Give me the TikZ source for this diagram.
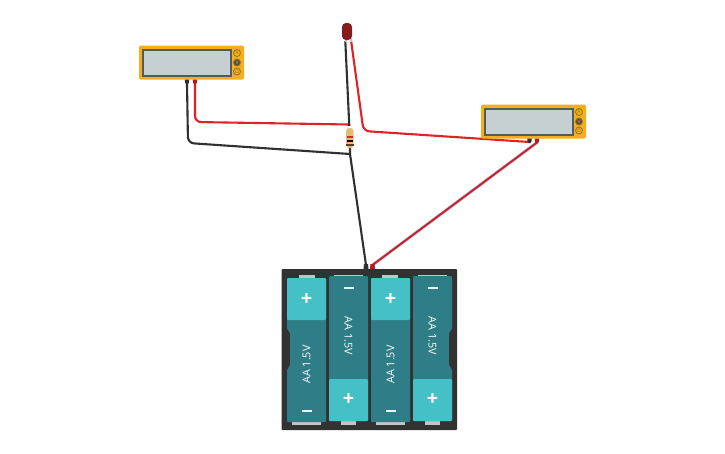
\documentclass[tikz,border=0pt]{standalone}
\usepackage{fontspec}
\setmainfont{Open Sans}
\definecolor{amber}{HTML}{F5AE1C}
\definecolor{lcd}{HTML}{C6D0D2}
\definecolor{lcdedge}{HTML}{555A5A}
\definecolor{tealdark}{HTML}{2E7D87}
\definecolor{teallight}{HTML}{45C0C6}
\definecolor{holder}{HTML}{323232}
\definecolor{wirered}{HTML}{E02226}
\definecolor{wireblack}{HTML}{303030}
\definecolor{capgrey}{HTML}{C4C4C4}
\definecolor{ledred}{HTML}{861C1C}
\definecolor{halo}{HTML}{AFC4E4}
\definecolor{tan}{HTML}{E3BC7C}
\definecolor{btnedge}{HTML}{8F7424}
\tikzset{
 x=1pt,y=-1pt,
 wirer/.style={draw=wirered,line width=2.1pt,rounded corners=6pt},
 wirek/.style={draw=wireblack,line width=2.1pt,rounded corners=6pt},
 leg/.style={draw=#1,line width=2.1pt},
 pole/.style={font=\fontsize{20}{20}\selectfont\bfseries,text=white,inner sep=0pt},
 celltext/.style={font=\fontsize{10.8}{11}\selectfont,text=white,inner sep=0pt},
 btn/.style={circle,draw=btnedge,line width=.8pt,minimum size=7pt,inner sep=0pt,text=btnedge,font=\fontsize{5}{5}\selectfont},
}
\newcommand{\meter}[3]{% name, x, y (top-left)
 \fill[amber,rounded corners=2pt] (#2,#3) rectangle ++(105,34);
 \draw[lcdedge,fill=lcd,line width=1.4pt] (#2+4,#3+4.5) rectangle ++(88,26);
 \node[btn] (#1a) at (#2+98,#3+7.5) {A};
 \node[btn,fill=black!70,text=amber] (#1b) at (#2+98,#3+17) {V};
 \node[btn] (#1c) at (#2+98,#3+26) {Ω};
}
\newcommand{\lead}[3]{% x, top y, colour
 \fill[#3] (#1-2.2,#2) -- (#1+2.2,#2) -- (#1+2.2,#2+2.5) -- (#1+1.1,#2+4.5) -- (#1-1.1,#2+4.5) -- (#1-2.2,#2+2.5) -- cycle;
}
\begin{document}
\begin{tikzpicture}
\useasboundingbox (0,0) rectangle (725,453);
\fill[white] (0,0) rectangle (725,453);
% wires
\coordinate (ledk) at (345.3,41);
\coordinate (ledr) at (351,40);
\coordinate (rt) at (349.3,126);
\coordinate (rj) at (349.3,124.5);
\coordinate (rb) at (350,148);
\coordinate (batk) at (366,265);
\coordinate (batr) at (372.5,265);
\coordinate (m1k) at (187,84);
\coordinate (m1r) at (195,84);
\coordinate (m2k) at (529.5,142);
\coordinate (m2r) at (537,142.5);
\draw[wirek] (m1k) -- (188,143) -- (350,154);
\draw[wirer] (m1r) -- (195,122) -- (rj);
\draw[leg=wireblack] (ledk) -- (rt);
\draw[leg=wireblack] (rb) -- (350,154) -- (batk);
\draw[wirer] (ledr) -- (363.5,131) -- (m2k);
\draw[draw=halo,line width=3.2pt] (batr) -- (m2r);
\draw[draw=wirered!92!black,line width=1.9pt] (batr) -- (m2r);
% LED
\fill[capgrey] (345,38) rectangle (347,42);
\fill[capgrey] (350,38) rectangle (352,42);
\node[fill=ledred,minimum width=10pt,minimum height=17pt,inner sep=0pt,rounded corners=4pt] (led) at (347,31.5) {};
% resistor
\node[fill=tan,minimum width=7.5pt,minimum height=20pt,rounded corners=3pt,inner sep=0pt] (res) at (349.8,138) {};
\fill[wirered] (346.5,135.5) rectangle (353,137.5);
\fill[black] (346.5,139.5) rectangle (353,141.5);
\fill[black!50!brown] (346,143.5) rectangle (353.5,146);
% meters
\meter{ma}{139}{45.5}
\meter{mb}{481}{104.5}
\lead{187}{79.5}{wireblack}
\lead{195}{79.5}{wirered!80!black}
\lead{529.5}{138.5}{wireblack}
\lead{537}{138.5}{wirered!80!black}
% holder
\fill[holder,rounded corners=1pt] (281.5,269) rectangle (457,430);
\fill[wireblack] (364,264) -- (368,264) -- (368.5,269) -- (363.5,269) -- cycle;
\fill[wirered!80!black] (370.5,264) -- (374.5,264) -- (375,269) -- (370,269) -- cycle;
% caps
\fill[capgrey] (298.5,274.5) rectangle ++(16,4);
\fill[capgrey] (381.5,274.5) rectangle ++(16,4);
\fill[capgrey] (334,274.5) rectangle ++(29,2);
\fill[capgrey] (418,274.5) rectangle ++(29,2);
\fill[capgrey] (292,422) rectangle ++(29,3);
\fill[capgrey] (376,422) rectangle ++(29,3);
\fill[capgrey] (341,420) rectangle ++(15,5);
\fill[capgrey] (424.5,420) rectangle ++(15,5);
% cells: plus-top
\fill[tealdark,rounded corners=1pt] (287,278) -- (326,278) -- (326,422) -- (287,422) -- (287,370) -- (290,365) -- (290,333) -- (287,329) -- cycle;
\fill[tealdark,rounded corners=1pt] (371,278) rectangle (410,422);
\foreach \x in {287,371}{
 \fill[teallight,rounded corners=1pt] (\x,278) -- (\x+39,278) -- (\x+39,320) -- (\x,320) -- cycle;
 \node[pole] at (\x+19.5,299.5) {+};
 \node[celltext,rotate=90] at (\x+19.5,364.5) {AA 1.5V};
 \fill[white!85!teallight] (\x+14.5,410) rectangle ++(10,2);
}
% cells: minus-top
\fill[tealdark,rounded corners=1pt] (329,276) rectangle (368,421);
\fill[tealdark,rounded corners=1pt] (413,276) -- (452,276) -- (452,329) -- (449,333) -- (449,365) -- (452,370) -- (452,421) -- (413,421) -- cycle;
\foreach \x in {329,413}{
 \fill[teallight,rounded corners=1pt] (\x,379) rectangle (\x+39,421);
 \node[pole] at (\x+19.5,399.5) {+};
 \node[celltext,rotate=-90] at (\x+19.5,336) {AA 1.5V};
 \fill[white!85!teallight] (\x+14.5,287) rectangle ++(10,2);
}
\end{tikzpicture}
\end{document}
